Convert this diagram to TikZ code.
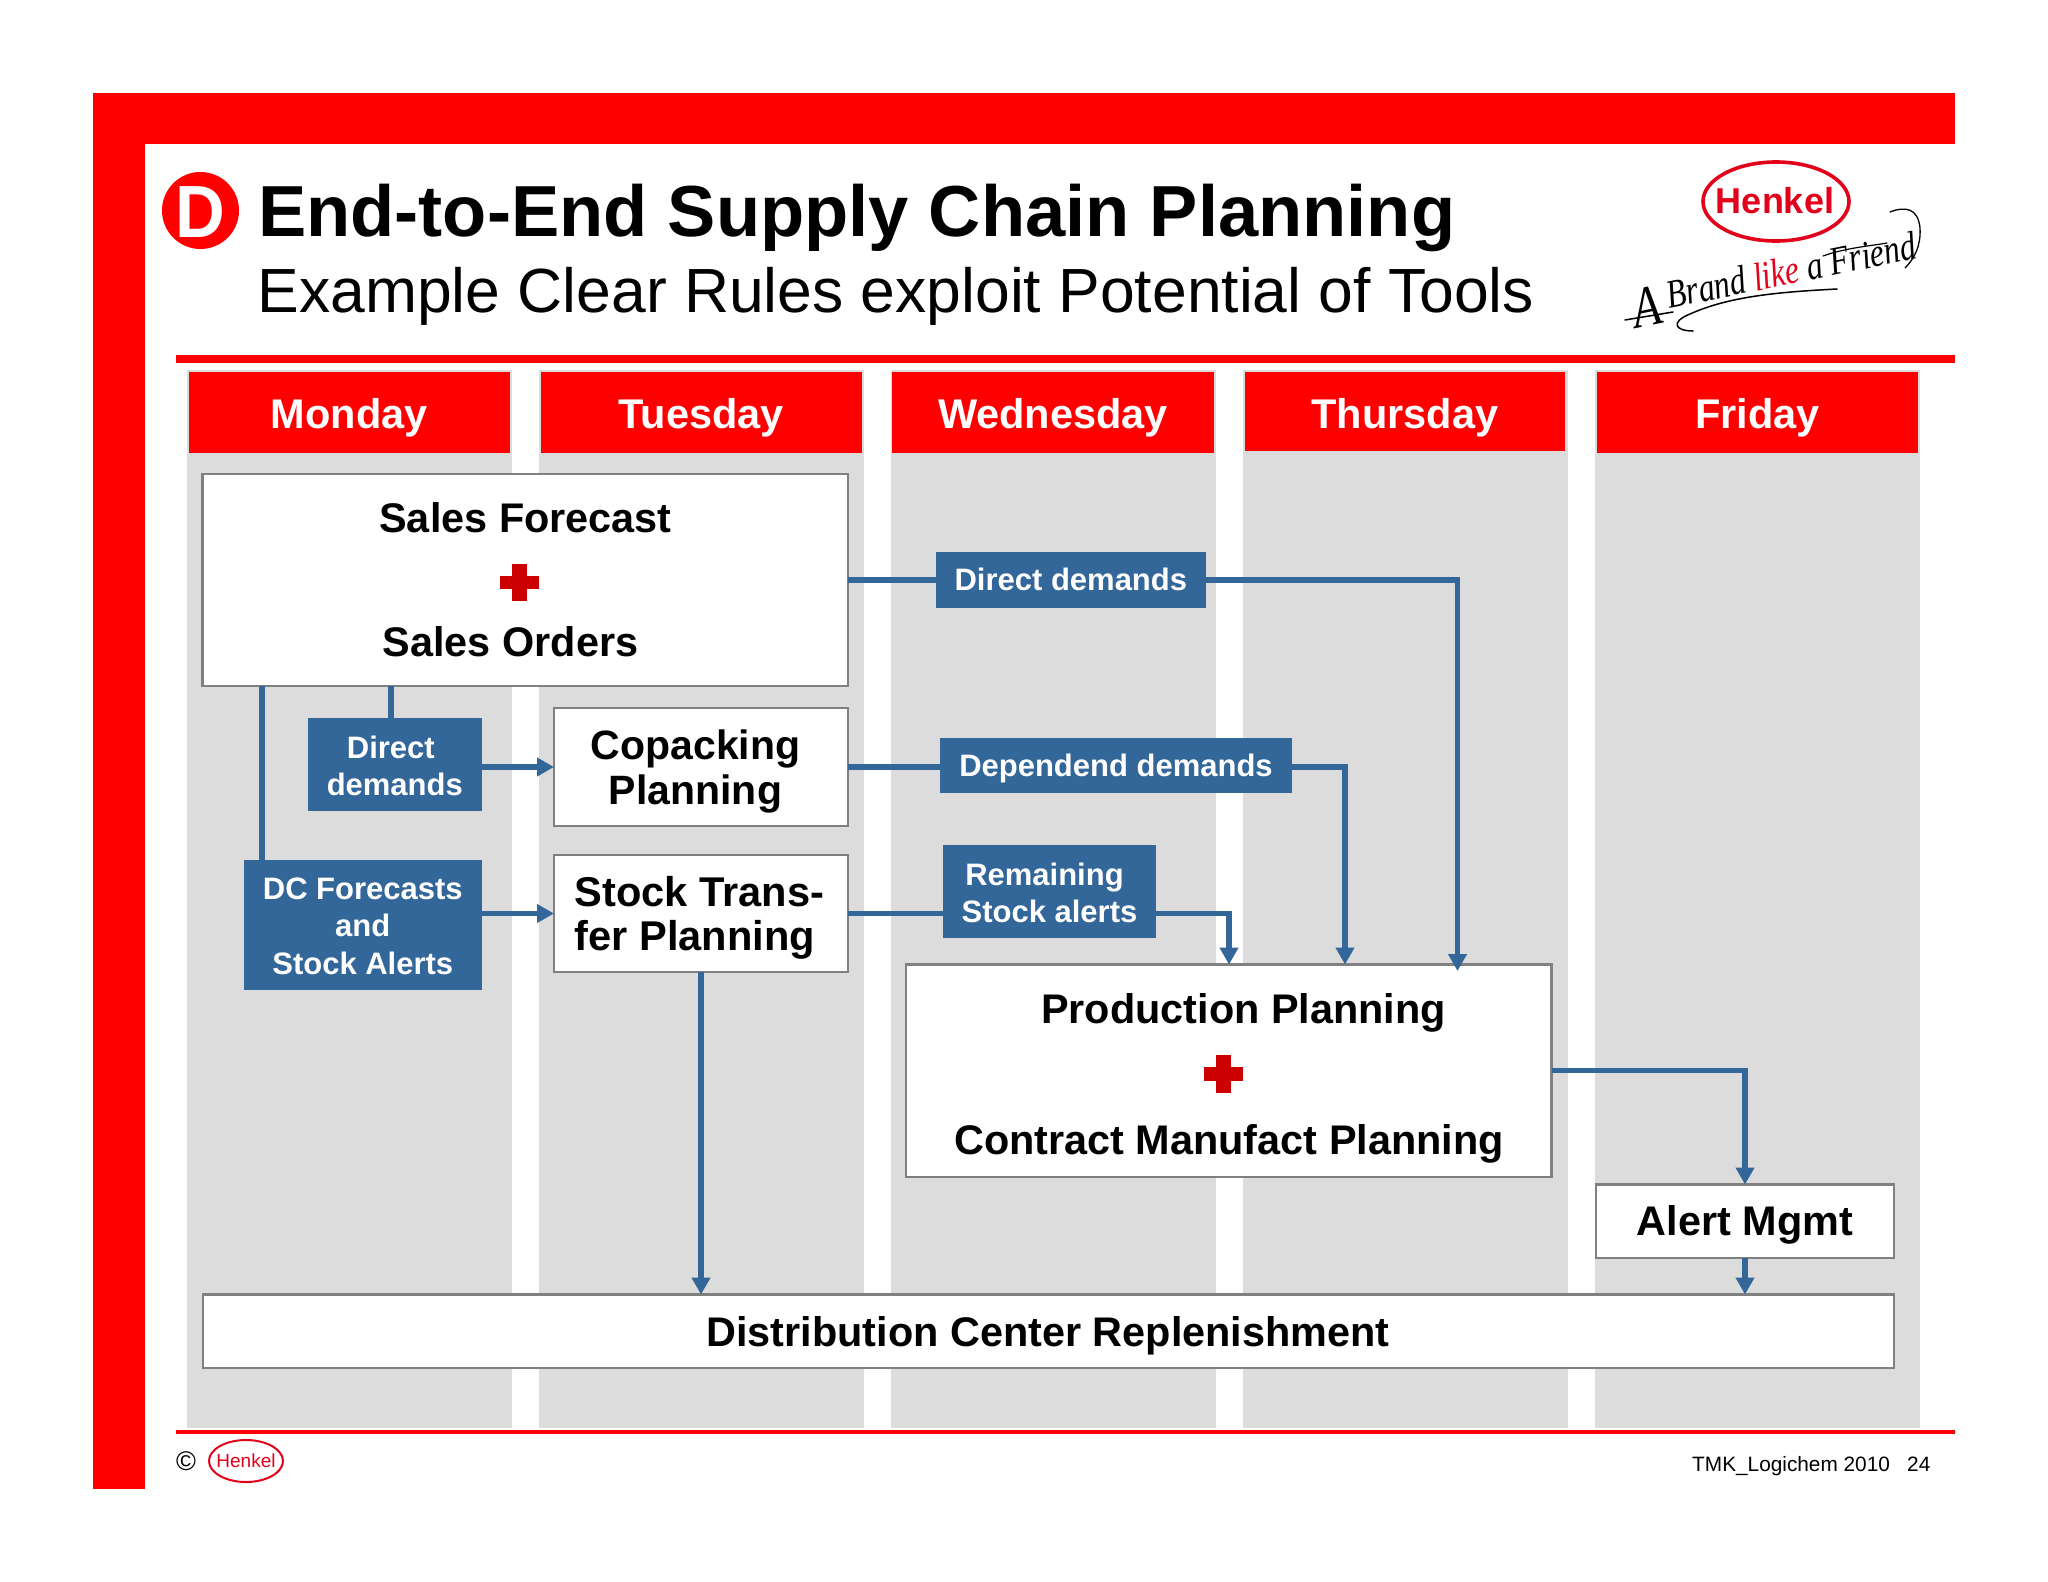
\documentclass[tikz,border=0pt]{standalone}
\usepackage{fontspec}
\usetikzlibrary{arrows.meta,calc,shapes.geometric}
\setmainfont{Liberation Sans}
\newfontfamily\sigfont{Liberation Serif}
\definecolor{hred}{HTML}{FF0000}
\definecolor{logored}{HTML}{E2001A}
\definecolor{colgrey}{HTML}{DCDCDD}
\definecolor{hblue}{HTML}{336699}
\definecolor{frame}{HTML}{808080}
\definecolor{plusred}{HTML}{CC0000}
\newcommand{\fsz}[2]{\fontsize{#1}{#2}\selectfont}
\newcommand{\lift}{\rule{0pt}{25pt}}
% \rectnode{name}{style}{x1}{y1}{x2}{y2}{text}
\newcommand{\rectnode}[7]{%
  \pgfmathsetmacro{\rcx}{(#3+#5)/2}\pgfmathsetmacro{\rcy}{(#4+#6)/2}%
  \pgfmathsetmacro{\rw}{#5-#3}\pgfmathsetmacro{\rh}{#6-#4}%
  \node[#2,minimum width=\rw pt,minimum height=\rh pt] (#1) at (\rcx,\rcy) {#7};}
\newcommand{\plusmark}[2]{%
  \fill[plusred] (#1-19.5,#2-6.75) rectangle (#1+19.5,#2+6.75);
  \fill[plusred] (#1-7.5,#2-18.75) rectangle (#1+7.5,#2+18.75);}
\tikzset{
  whitebox/.style={draw=frame,line width=2.8pt,fill=white,inner sep=0pt,outer sep=0pt},
  bluebox/.style={fill=hblue,inner sep=0pt,outer sep=0pt,text=white,align=center,font=\bfseries\fsz{31}{37.5}},
  singleline/.style={text height=22.2pt,text depth=0pt},
  headbox/.style={fill=hred,inner sep=0pt,outer sep=0pt,text=white,font=\bfseries\fsz{41.5}{45},text height=32.5pt,text depth=0pt},
  boldtext/.style={inner sep=0pt,font=\bfseries\fsz{41.4}{45},text height=29.5pt,text depth=0pt},
  plantext/.style={inner sep=0pt,font=\bfseries\fsz{41}{45}},
  conn/.style={draw=hblue,line width=5.4pt},
  arr/.style={conn,-{Triangle[width=18pt,length=17pt]}},
  logoring/.style={draw=logored,ellipse,fill=none,inner sep=0pt},
  sig/.style={draw=black,line width=1.5pt,line cap=round},
}
\begin{document}
\begin{tikzpicture}[x=1pt,y=-1pt]
\useasboundingbox (0,0) rectangle (2048,1582);
\fill[white] (0,0) rectangle (2048,1582);
% red frame
\fill[hred] (93,92.5) rectangle (1955,144);
\fill[hred] (93,92.5) rectangle (145,1489);
\fill[hred] (176,355) rectangle (1955,363);
\fill[hred] (176,1430) rectangle (1955,1434);
% columns
\fill[colgrey] (187,370) rectangle (512,1428);
\fill[colgrey] (539,370) rectangle (864,1428);
\fill[colgrey] (891,370) rectangle (1216,1428);
\fill[colgrey] (1243,370) rectangle (1568,1428);
\fill[colgrey] (1595,370) rectangle (1920,1428);
% headers
\rectnode{mon}{headbox}{189}{372}{509.5}{453}{Monday}
\rectnode{tue}{headbox}{541}{372}{861.5}{453}{Tuesday}
\rectnode{wed}{headbox}{892}{372}{1214}{453}{Wednesday}
\rectnode{thu}{headbox,text height=34pt}{1245}{372}{1565}{451}{Thursday}
\rectnode{fri}{headbox}{1597}{372}{1917.5}{453}{Friday}
% title
\node[circle,fill=hred,minimum size=77pt,inner sep=0pt,text=white,font=\bfseries\fsz{74}{74},text height=53pt,text depth=0pt] (dmark) at (200.5,210.5) {\scalebox{0.93}[1]{D}};
\node[anchor=base west,inner sep=0pt,font=\bfseries\fsz{72.3}{72}] (title) at (258,236) {End-to-End Supply Chain Planning};
\node[anchor=base west,inner sep=0pt,font=\fsz{62.4}{62}] (subtitle) at (257.5,312) {Example Clear Rules exploit Potential of Tools};
% Henkel logo
\node[logoring,line width=3.6pt,minimum width=146pt,minimum height=79pt] (logo) at (1776,201.5) {};
\node[inner sep=0pt,text=logored,font=\bfseries\fsz{36}{36},text height=27pt,text depth=0pt] (logotext) at (1775,200) {Henkel};
\node[anchor=base west,inner sep=0pt,rotate=11.5,font=\sigfont\itshape\fsz{40}{40}] (slogan) at (1634,316) {\scalebox{0.8}[1]{\raisebox{-13pt}{\fsz{58}{58}A} Brand \textcolor{logored}{like} a Friend}};
\draw[sig] (1625,320) -- (1673,312);
\draw[sig] (1693,331) .. controls (1675,331) and (1670,322) .. (1690,314) .. controls (1730,296) and (1780,292) .. (1837,289);
\draw[sig,line width=1.2pt] (1823,256) .. controls (1845,248) and (1870,246) .. (1887,243);
\draw[sig,line width=1.3pt] (1890,212) .. controls (1905,206) and (1918,208) .. (1920,228) .. controls (1921,245) and (1915,258) .. (1905,268);
% boxes
\rectnode{sales}{whitebox}{202.5}{474}{848}{686}{}
\node[boldtext] (salesf) at (525.5,517.5) {Sales Forecast};
\node[boldtext] (saleso) at (510.5,642) {Sales Orders};
\plusmark{519.5}{582.5}
\rectnode{copack}{whitebox}{554}{708}{848}{826}{}
\node[plantext,align=center] (copackt) at (695.5,771) {Copacking\\Planning};
\rectnode{stock}{whitebox}{554}{855}{848}{972}{}
\node[plantext,align=left,anchor=west,font=\bfseries\fsz{41.6}{44}] (stockt) at (574.5,917.5) {Stock Trans-\\fer Planning};
\rectnode{prod}{whitebox}{906}{964.5}{1551.5}{1177}{}
\node[boldtext] (prodp) at (1243.5,1008.6) {Production Planning};
\node[boldtext] (prodc) at (1229,1140) {Contract Manufact Planning};
\plusmark{1223}{1074}
\rectnode{alert}{whitebox}{1596}{1184.5}{1894}{1258}{}
\node[boldtext] (alertt) at (1745,1221) {Alert Mgmt};
\rectnode{dist}{whitebox}{203}{1294.5}{1894}{1368}{}
\node[boldtext] (distt) at (1048,1332) {Distribution Center Replenishment};
% blue labels
\rectnode{ddleft}{bluebox}{308}{718}{481.6}{811}{\lift Direct\hspace*{8pt}\\demands}
\rectnode{dc}{bluebox}{244}{860}{481.6}{990}{\rule{0pt}{24pt}DC Forecasts\\and\\Stock Alerts}
\rectnode{ddtop}{bluebox,singleline}{936}{552}{1205.7}{607.7}{Direct demands}
\rectnode{dep}{bluebox,singleline}{940}{738}{1292}{793.4}{Dependend demands}
\rectnode{rem}{bluebox}{943}{845}{1156}{938}{\lift Remaining\hspace*{10pt}\\Stock alerts}
% connectors
\coordinate (xa) at (262,0);
\coordinate (xb) at (391,0);
\coordinate (xc) at (701,0);
\coordinate (xd) at (1229,0);
\coordinate (xe) at (1345,0);
\coordinate (xf) at (1457.5,0);
\coordinate (xg) at (1745,0);
\coordinate (yf) at (0,971);
\draw[conn] (sales.south -| xa) -- (dc.north -| xa);
\draw[conn] (sales.south -| xb) -- (ddleft.north -| xb);
\draw[arr] (ddleft.east |- copack.west) -- (copack.west);
\draw[arr] (dc.east |- stock.west) -- (stock.west);
\draw[conn] (sales.east) -- (ddtop.west |- sales.east);
\draw[conn] (copack.east) -- (dep.west |- copack.east);
\draw[conn] (stock.east) -- (rem.west |- stock.east);
\draw[arr,line join=miter] (ddtop.east |- sales.east) -| (xf |- yf);
\draw[arr,line join=miter] (dep.east |- copack.east) -| (prod.north -| xe);
\draw[arr,line join=miter] (rem.east |- stock.east) -| (prod.north -| xd);
\draw[arr] (stock.south -| xc) -- (dist.north -| xc);
\draw[arr,line join=miter] (prod.east) -| (alert.north -| xg);
\draw[arr] (alert.south -| xg) -- (dist.north -| xg);
% footer
\node[inner sep=0pt,font=\fsz{27}{27}] (copy) at (186,1461) {\textcopyright};
\node[logoring,line width=2pt,minimum width=74pt,minimum height=42pt] (logosmall) at (246,1461) {};
\node[inner sep=0pt,text=logored,font=\fsz{19}{19},text height=13.6pt,text depth=0pt] (logosmalltext) at (246,1461) {Henkel};
\node[anchor=base west,inner sep=0pt,font=\fsz{20.8}{21}] (foot) at (1692,1471) {TMK\_Logichem 2010};
\node[anchor=base west,inner sep=0pt,font=\fsz{20.8}{21}] (page) at (1907,1471) {24};
\end{tikzpicture}
\end{document}
